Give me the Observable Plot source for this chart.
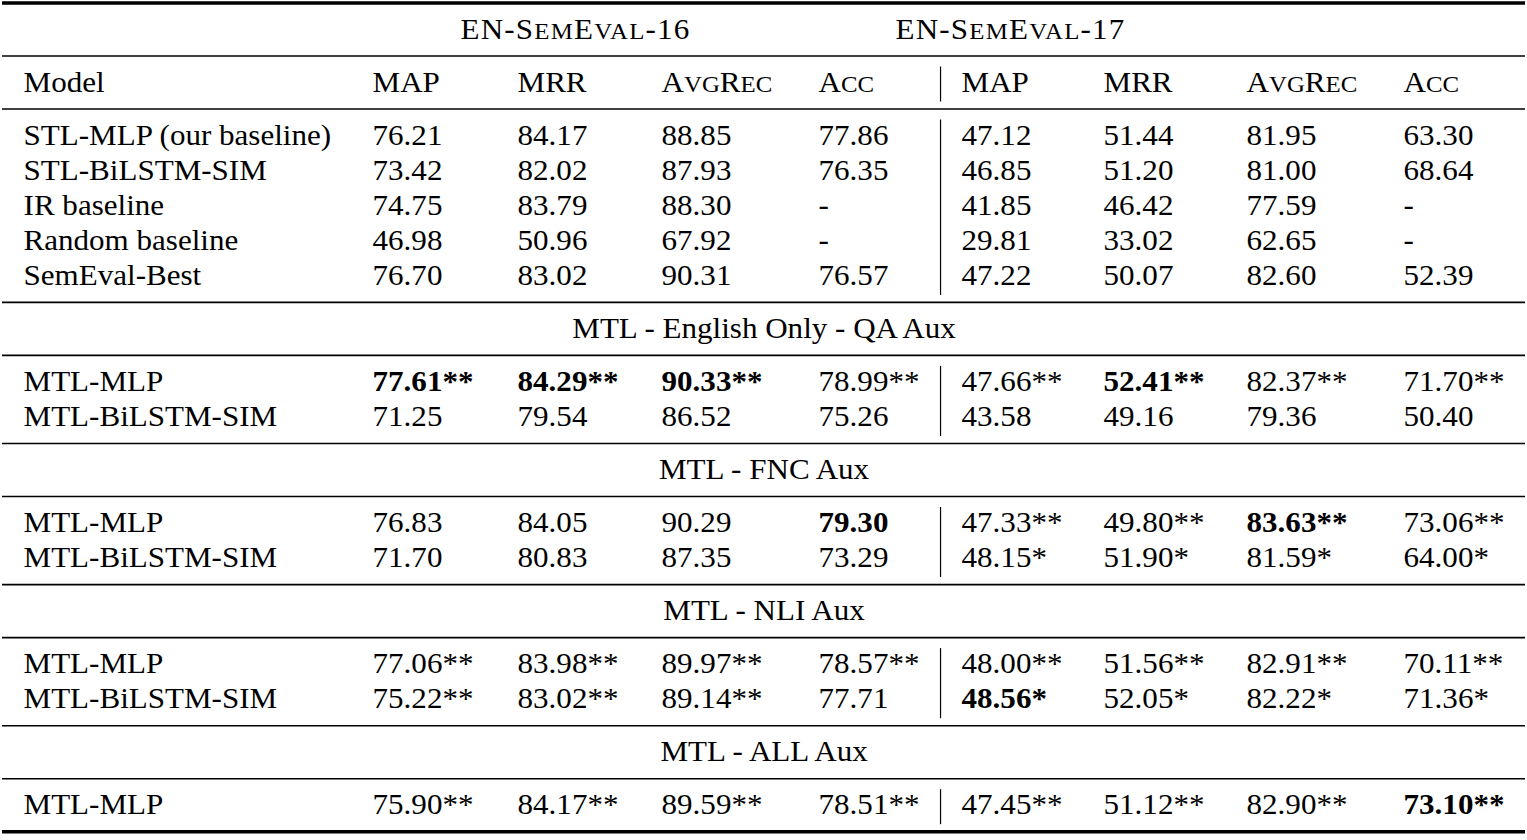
<!DOCTYPE html>
<html>
<head>
<meta charset="utf-8">
<script src="https://cdn.jsdelivr.net/npm/d3@7"></script>
<script src="https://cdn.jsdelivr.net/npm/@observablehq/plot@0.6"></script>
<style>
html, body { margin: 0; padding: 0; background: #fff; overflow: hidden; }
#chart svg { display: block; }
</style>
</head>
<body>
<div id="chart"></div>
<script>
// ---------- data ----------
const datasets = ["EN-SemEval-16", "EN-SemEval-17"];
const metrics = ["MAP", "MRR", "AvgRec", "Acc"];
const sectionTitles = [null, "MTL - English Only - QA Aux", "MTL - FNC Aux", "MTL - NLI Aux", "MTL - ALL Aux"];

const baselineModels = ["STL-MLP (our baseline)", "STL-BiLSTM-SIM", "IR baseline", "Random baseline", "SemEval-Best"];
const baselineScores = [
  ["76.21", "84.17", "88.85", "77.86", "47.12", "51.44", "81.95", "63.30"],
  ["73.42", "82.02", "87.93", "76.35", "46.85", "51.20", "81.00", "68.64"],
  ["74.75", "83.79", "88.30", "-", "41.85", "46.42", "77.59", "-"],
  ["46.98", "50.96", "67.92", "-", "29.81", "33.02", "62.65", "-"],
  ["76.70", "83.02", "90.31", "76.57", "47.22", "50.07", "82.60", "52.39"]
];
const qaModels = ["MTL-MLP", "MTL-BiLSTM-SIM"];
const qaScores = [
  ["77.61**", "84.29**", "90.33**", "78.99**", "47.66**", "52.41**", "82.37**", "71.70**"],
  ["71.25", "79.54", "86.52", "75.26", "43.58", "49.16", "79.36", "50.40"]
];
const fncModels = ["MTL-MLP", "MTL-BiLSTM-SIM"];
const fncScores = [
  ["76.83", "84.05", "90.29", "79.30", "47.33**", "49.80**", "83.63**", "73.06**"],
  ["71.70", "80.83", "87.35", "73.29", "48.15*", "51.90*", "81.59*", "64.00*"]
];
const nliModels = ["MTL-MLP", "MTL-BiLSTM-SIM"];
const nliScores = [
  ["77.06**", "83.98**", "89.97**", "78.57**", "48.00**", "51.56**", "82.91**", "70.11**"],
  ["75.22**", "83.02**", "89.14**", "77.71", "48.56*", "52.05*", "82.22*", "71.36*"]
];
const allModels = ["MTL-MLP"];
const allScores = [
  ["75.90**", "84.17**", "89.59**", "78.51**", "47.45**", "51.12**", "82.90**", "73.10**"]
];
// best results (shown in bold): [section, model, dataset, metric]
const bestCells = [
  ["MTL - English Only - QA Aux", "MTL-MLP", "EN-SemEval-16", "MAP"],
  ["MTL - English Only - QA Aux", "MTL-MLP", "EN-SemEval-16", "MRR"],
  ["MTL - English Only - QA Aux", "MTL-MLP", "EN-SemEval-16", "AvgRec"],
  ["MTL - English Only - QA Aux", "MTL-MLP", "EN-SemEval-17", "MRR"],
  ["MTL - FNC Aux", "MTL-MLP", "EN-SemEval-16", "Acc"],
  ["MTL - FNC Aux", "MTL-MLP", "EN-SemEval-17", "AvgRec"],
  ["MTL - NLI Aux", "MTL-BiLSTM-SIM", "EN-SemEval-17", "MAP"],
  ["MTL - ALL Aux", "MTL-MLP", "EN-SemEval-17", "Acc"]
];

const sectionModels = [baselineModels, qaModels, fncModels, nliModels, allModels];
const sectionScores = [baselineScores, qaScores, fncScores, nliScores, allScores];

// ---------- layout ----------
const stretch = 1.09;          // horizontal stretch of the reference typesetting
const fontSize = 28.5;
const fontFamily = "Liberation Serif, Times New Roman, serif";
const pageW = 1527, pageH = 840;
const innerW = pageW / stretch;
const rowStep = 35.1, band = 53, pad = 26.5;
const modelX = 23;
const columnLeft = {"EN-SemEval-16": [372, 517, 661, 818], "EN-SemEval-17": [961, 1103, 1246, 1403]};
const datasetCenter = {"EN-SemEval-16": 575, "EN-SemEval-17": 1010};
const tableLeft = 2, tableRight = 1525, tableCenter = 763.5, separatorX = 940;

let cursor = 2.5;
const thickRules = [cursor];
const thinRules = [];
const vSegments = [];
const datasetHeaderY = cursor + pad; cursor += band; thinRules.push(cursor);
const metricHeaderY = cursor + pad; vSegments.push({y1: cursor + 11, y2: cursor + band - 7}); cursor += band; thinRules.push(cursor);
const rows = [];
const titles = [];
sectionTitles.forEach((title, i) => {
  if (title) { titles.push({title, y: cursor + pad}); cursor += band; thinRules.push(cursor); }
  const top = cursor;
  sectionModels[i].forEach((model, j) => rows.push({section: title, si: i, ri: j, model, y: cursor + pad + j * rowStep}));
  cursor += 2 * pad + (sectionModels[i].length - 1) * rowStep;
  vSegments.push({y1: top + 11, y2: cursor - 7});
  if (i < sectionTitles.length - 1) thinRules.push(cursor); else thickRules.push(cursor);
});

const isBest = (sec, model, ds, m) => bestCells.some(b => b[0] === sec && b[1] === model && b[2] === ds && b[3] === m);
const cells = rows.flatMap(r => datasets.flatMap((ds, di) => metrics.map((m, mi) => ({
  y: r.y,
  x: columnLeft[ds][mi],
  value: sectionScores[r.si][r.ri][di * 4 + mi],
  best: isBest(r.section, r.model, ds, m)
}))));
const metricHeaders = datasets.flatMap(ds => metrics.map((m, mi) => ({x: columnLeft[ds][mi], label: m})));
const datasetHeaders = datasets.map(ds => ({x: datasetCenter[ds], label: ds}));

const txt = {fontFamily, fontSize, fill: "#000"};

const svg = Plot.plot({
  width: innerW,
  height: pageH,
  margin: 0,
  x: {domain: [0, pageW], range: [0, innerW], axis: null},
  y: {domain: [0, pageH], range: [0, pageH], axis: null},
  marks: [
    Plot.ruleY(thickRules, {y: d => d, x1: tableLeft, x2: tableRight, stroke: "#000", strokeWidth: 3.5}),
    Plot.ruleY(thinRules, {y: d => d, x1: tableLeft, x2: tableRight, stroke: "#000", strokeWidth: 1.6}),
    Plot.ruleX(vSegments, {x: separatorX, y1: "y1", y2: "y2", stroke: "#000", strokeWidth: 1.1}),
    Plot.text(datasetHeaders, {x: "x", y: datasetHeaderY, text: "label", textAnchor: "middle", ...txt}),
    Plot.text(["Model"], {x: modelX, y: metricHeaderY, text: d => d, textAnchor: "start", ...txt}),
    Plot.text(metricHeaders, {x: "x", y: metricHeaderY, text: "label", textAnchor: "start", ...txt}),
    Plot.text(titles, {x: tableCenter, y: "y", text: "title", textAnchor: "middle", ...txt}),
    Plot.text(rows, {x: modelX, y: "y", text: "model", textAnchor: "start", ...txt}),
    Plot.text(cells.filter(c => !c.best), {x: "x", y: "y", text: "value", textAnchor: "start", ...txt}),
    Plot.text(cells.filter(c => c.best), {x: "x", y: "y", text: "value", textAnchor: "start", fontWeight: "bold", ...txt})
  ]
});

// typeset small capitals (lowercase letters -> reduced capitals), like LaTeX \textsc
function smallCaps(root, labels, ratio, spacing) {
  root.querySelectorAll("text").forEach(t => {
    const s = t.textContent;
    if (!labels.includes(s)) return;
    t.textContent = "";
    for (const m of s.matchAll(/[a-z]+|[^a-z]+/g)) {
      const ts = document.createElementNS("http://www.w3.org/2000/svg", "tspan");
      if (/[a-z]/.test(m[0])) { ts.setAttribute("font-size", ratio * fontSize); ts.textContent = m[0].toUpperCase(); }
      else ts.textContent = m[0];
      t.appendChild(ts);
    }
    if (spacing) t.setAttribute("letter-spacing", spacing);
  });
}
smallCaps(svg, datasets, 0.8, 1.1);
smallCaps(svg, metrics, 0.8, 0);

// reproduce the horizontally stretched typesetting of the reference
svg.setAttribute("width", pageW);
svg.setAttribute("height", pageH);
svg.setAttribute("viewBox", `0 0 ${innerW} ${pageH}`);
svg.setAttribute("preserveAspectRatio", "none");
svg.style.width = pageW + "px";
svg.style.height = pageH + "px";
svg.style.maxWidth = "none";
document.getElementById("chart").appendChild(svg);
</script>
</body>
</html>
